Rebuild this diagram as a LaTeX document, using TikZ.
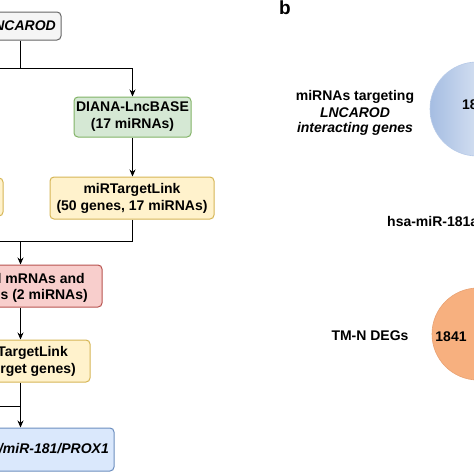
\documentclass[tikz,border=0pt]{standalone}
\usepackage{fontspec}
\setmainfont{Liberation Sans}
\usetikzlibrary{arrows.meta}
\definecolor{grayfill}{HTML}{F5F5F5}
\definecolor{graydraw}{HTML}{666666}
\definecolor{greenfill}{HTML}{D5E8D4}
\definecolor{greendraw}{HTML}{82B366}
\definecolor{yellowfill}{HTML}{FFF2CC}
\definecolor{yellowdraw}{HTML}{D6B656}
\definecolor{redfill}{HTML}{F8CECC}
\definecolor{reddraw}{HTML}{B85450}
\definecolor{bluefill}{HTML}{DAE8FC}
\definecolor{bluedraw}{HTML}{6C8EBF}
\definecolor{circblue}{HTML}{A5BDE2}
\definecolor{circorange}{HTML}{F7B07F}
\definecolor{circorangedraw}{HTML}{E9A273}
\begin{document}
\begin{tikzpicture}[x=1pt,y=-1pt,
  boxbase/.style={draw, rounded corners=4pt, line width=1pt, inner sep=0pt},
  graybox/.style={boxbase, fill=grayfill, draw=graydraw},
  greenbox/.style={boxbase, fill=greenfill, draw=greendraw},
  yellowbox/.style={boxbase, fill=yellowfill, draw=yellowdraw},
  redbox/.style={boxbase, fill=redfill, draw=reddraw},
  bluebox/.style={boxbase, fill=bluefill, draw=bluedraw},
  txt/.style={inner sep=0pt, font=\fontsize{14}{17}\selectfont\bfseries, align=center},
  itxt/.style={txt, font=\fontsize{14}{17}\selectfont\bfseries\itshape},
  conn/.style={line width=1pt, draw=black},
  arr/.style={conn, -{Stealth[length=7pt,width=6pt]}}]
\useasboundingbox (0,0) rectangle (474,474);
\clip (0,0) rectangle (474,474);
\fill[white] (0,0) rectangle (474,474);

% ---- panel a boxes ----
\node[graybox, minimum width=91pt, minimum height=28pt] (top) at (15.5,26) {};
\node[itxt, anchor=east] (toptxt) at (56,26) {NCAROD};

\node[greenbox, minimum width=117pt, minimum height=40pt, txt] (diana) at (132.5,117) {DIANA-LncBASE\\(17 miRNAs)};

\node[yellowbox, minimum width=164pt, minimum height=42pt, txt] (mtl) at (132,198) {miRTargetLink\\(50 genes, 17 miRNAs)};

\node[yellowbox, minimum width=63pt, minimum height=38pt] (lefty) at (-28.5,197) {};

\node[redbox, minimum width=132pt, minimum height=42pt] (red) at (36,286) {};
\node[txt, anchor=east] (redA) at (85,278) {l mRNAs and};
\node[txt, anchor=east] (redB) at (88,295.5) {s (2 miRNAs)};

\node[yellowbox, minimum width=120pt, minimum height=42pt] (ytwo) at (30,361) {};
\node[txt, anchor=east] (ytwoA) at (68,353) {TargetLink};
\node[txt, anchor=east] (ytwoB) at (76,370) {rget genes)};

\node[bluebox, minimum width=144pt, minimum height=43pt] (blue) at (42,449.5) {};
\node[itxt, anchor=east] (bluetxt) at (109,449) {/miR-181/PROX1};

% ---- connectors ----
\coordinate (j1) at (20.5,68);
\coordinate (j1l) at (-10,68);
\coordinate (j1r) at (132.5,68);
\draw[conn] (top.south -| j1) -- (j1);
\draw[conn] (j1l) -- (j1r);
\draw[arr] (j1r) -- (diana.north);
\draw[arr] (diana.south) -- (mtl.north -| diana.south);

\coordinate (j2r) at (132.5,241);
\coordinate (j2l) at (-10,241);
\coordinate (j2) at (20.5,241);
\draw[conn] (mtl.south -| j2r) -- (j2r) -- (j2l);
\draw[arr] (j2) -- (red.north -| j2);
\draw[arr] (red.south -| j2) -- (ytwo.north -| j2);
\coordinate (j3) at (20.5,406);
\coordinate (j3l) at (-10,406);
\draw[conn] (j3l) -- (j3);
\draw[arr] (ytwo.south -| j2) -- (blue.north -| j2);

% ---- panel b ----
\node[inner sep=0pt, font=\fontsize{19}{19}\selectfont\bfseries] (b) at (285,8) {b};

\shade[left color=circblue, right color=white] (477,109) circle (47pt);
\draw[circblue!80!white, line width=0.6pt] (477,109) circle (47pt);
\node[inner sep=0pt] (c1) at (477,109) {};
\node[txt, anchor=west] (n18) at (462,105) {18};

\node[txt] (lab1a) at (355,97) {miRNAs targeting};
\node[itxt] (lab1b) at (355,113) {LNCAROD};
\node[itxt] (lab1c) at (355,128.5) {interacting genes};

\node[txt, anchor=west] (hsa) at (387,221) {hsa-miR-181a};

\fill[circorange] (478,334) circle (46pt);
\draw[circorangedraw, line width=0.6pt] (478,334) circle (46pt);
\node[txt] (n1841) at (451,337) {1841};
\node[txt] (lab2) at (370,336) {TM-N DEGs};
\end{tikzpicture}
\end{document}
